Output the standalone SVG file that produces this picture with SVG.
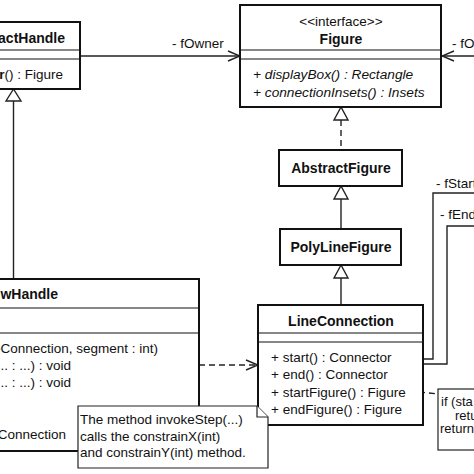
<svg xmlns="http://www.w3.org/2000/svg" width="474" height="474" viewBox="0 0 474 474">
<defs>
<style>
text{font-family:"Liberation Sans",Arial,sans-serif;font-size:13.5px;fill:#111}
.b{font-weight:bold;font-size:14px}
.i{font-style:italic;font-size:13.7px}
.box{fill:#fff;stroke:#111;stroke-width:2}
.cmp{stroke:#111;stroke-width:1.2;fill:none}
.ln{stroke:#222;stroke-width:1.4;fill:none}
.dash{stroke:#222;stroke-width:1.4;fill:none;stroke-dasharray:6 4}
.tri{fill:#fff;stroke:#222;stroke-width:1.4}
.note{fill:#fff;stroke:#222;stroke-width:1.2}
.n2{font-size:13px}
</style>
<marker id="open" markerWidth="14" markerHeight="12" refX="13" refY="6" orient="auto" markerUnits="userSpaceOnUse">
<path d="M1,1 L13,6 L1,11" fill="none" stroke="#222" stroke-width="1.4"/>
</marker>
</defs>

<g id="connectors">
<line class="ln" x1="80" y1="56" x2="240" y2="56" marker-end="url(#open)"/>
<text x="172" y="48">- fOwner</text>
<line class="ln" x1="476" y1="56" x2="442" y2="56" marker-end="url(#open)"/>
<text x="452" y="48">- fO</text>
<line class="ln" x1="13.5" y1="101" x2="13.5" y2="279"/>
<polygon class="tri" points="13.5,89 6,101 21,101"/>
<line class="dash" x1="341" y1="120" x2="341" y2="150"/>
<polygon class="tri" points="341,107 334,120 348,120"/>
<line class="ln" x1="341" y1="199" x2="341" y2="229"/>
<polygon class="tri" points="341,186 334,199 348,199"/>
<line class="ln" x1="341" y1="278" x2="341" y2="305"/>
<polygon class="tri" points="341,265 334,278 348,278"/>
<polyline class="ln" points="423,359 433,359 433,193 476,193"/>
<text x="436" y="188">- fStart</text>
<polyline class="ln" points="423,364 447,364 447,226 476,226"/>
<text x="440" y="219">- fEnd</text>
<line class="dash" x1="199" y1="365" x2="258" y2="365" marker-end="url(#open)"/>
<circle cx="190" cy="382" r="2.5" fill="#111"/>
<line class="dash" x1="189" y1="386" x2="183" y2="406"/>
<circle cx="414" cy="391" r="2.5" fill="#111"/>
<line class="dash" x1="419" y1="392" x2="438" y2="394"/>
</g>

<g id="AbstractHandle">
<rect class="box" x="-10" y="22" width="90" height="67"/>
<line class="cmp" x1="-10" y1="50" x2="80" y2="50"/>
<line class="cmp" x1="-10" y1="59" x2="80" y2="59"/>
<text class="b" x="65" y="43" text-anchor="end">actHandle</text>
<text x="63" y="79" text-anchor="end"><tspan font-weight="bold">r</tspan>() : Figure</text>
</g>

<g id="Figure">
<rect class="box" x="240" y="5" width="201" height="102"/>
<line class="cmp" x1="240" y1="50" x2="441" y2="50"/>
<line class="cmp" x1="240" y1="59" x2="441" y2="59"/>
<text x="341" y="26" text-anchor="middle">&lt;&lt;interface&gt;&gt;</text>
<text class="b" x="341" y="44" text-anchor="middle">Figure</text>
<text class="i" x="253" y="78.5">+ displayBox() : Rectangle</text>
<text class="i" x="253" y="96.5">+ connectionInsets() : Insets</text>
</g>

<g id="AbstractFigure">
<rect class="box" x="279" y="150" width="123" height="36"/>
<text class="b" x="341" y="173" text-anchor="middle">AbstractFigure</text>
</g>

<g id="PolyLineFigure">
<rect class="box" x="280" y="229" width="121" height="36"/>
<text class="b" x="341" y="252" text-anchor="middle">PolyLineFigure</text>
</g>

<g id="LineConnection">
<rect class="box" x="258" y="305" width="165" height="120"/>
<line class="cmp" x1="258" y1="333" x2="423" y2="333"/>
<line class="cmp" x1="258" y1="342" x2="423" y2="342"/>
<text class="b" x="341" y="326" text-anchor="middle">LineConnection</text>
<text x="271" y="361.5">+ start() : Connector</text>
<text x="271" y="379">+ end() : Connector</text>
<text x="271" y="396.5">+ startFigure() : Figure</text>
<text x="271" y="414">+ endFigure() : Figure</text>
</g>

<g id="ChangeConnectionHandle">
<rect class="box" x="-10" y="279" width="209" height="172"/>
<line class="cmp" x1="-10" y1="308" x2="199" y2="308"/>
<line class="cmp" x1="-10" y1="333" x2="199" y2="333"/>
<text class="b" x="58" y="299" text-anchor="end">wHandle</text>
<text x="158" y="353" text-anchor="end">eConnection, segment : int)</text>
<text x="71" y="370" text-anchor="end">... : ...) : void</text>
<text x="71" y="387" text-anchor="end">... : ...) : void</text>
<text x="66" y="439" text-anchor="end">Connection</text>
</g>

<g id="note1">
<polygon class="note" points="78,406 257,406 268,417 268,468 78,468"/>
<polyline class="note" points="257,406 257,417 268,417" fill="none"/>
<text x="80" y="424">The method invokeStep(...)</text>
<text x="80" y="441">calls the constrainX(int)</text>
<text x="80" y="457">and constrainY(int) method.</text>
</g>

<g id="note2">
<rect class="note" x="438" y="389" width="50" height="61"/>
<text class="n2" x="441" y="406">if (sta</text>
<text class="n2" x="455" y="419.5">retu</text>
<text class="n2" x="440" y="433">return</text>
</g>
</svg>
